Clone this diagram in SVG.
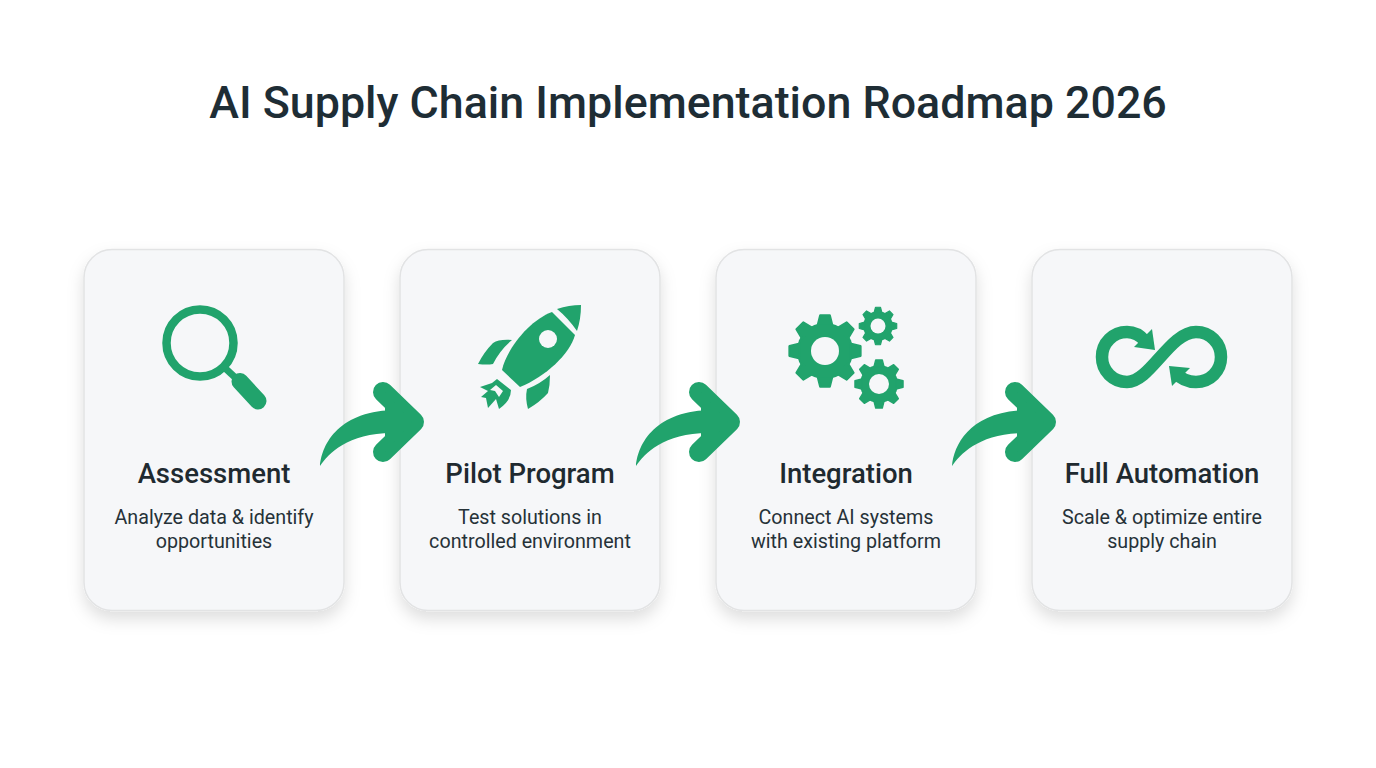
<svg xmlns="http://www.w3.org/2000/svg" width="1376" height="768" viewBox="0 0 1376 768">
<style>
text{font-family:Roboto,"Liberation Sans",sans-serif;text-anchor:middle}
.title{font-size:44.800px;font-weight:500;fill:#1e2d35}
.h{font-size:27.500px;font-weight:500;fill:#1f2a30}
.d{font-size:19.700px;fill:#263238}
.card{fill:#f6f7f9;stroke:#e2e3e4;stroke-width:1.500;filter:url(#sh)}
.g{fill:#21a36c}
.ln{fill:none;stroke:#21a36c}
.hole{fill:#f6f7f9}
</style>
<defs>
<filter id="sh" x="-20%" y="-20%" width="140%" height="140%"><feDropShadow dx="0" dy="8" stdDeviation="8" flood-color="#000" flood-opacity=".13"/></filter>
<g id="gear" class="g">
<circle r="76"/>
<g id="tooth2"><path id="t" stroke="#21a36c" stroke-width="6" stroke-linejoin="round" d="M-20,-68L-13,-96H13L20,-68ZM-20,68L-13,96H13L20,68Z"/><use href="#t" transform="rotate(90)"/></g>
<use href="#tooth2" transform="rotate(45)"/>
</g>
<g id="arrow">
<path class="g" d="M320,466C322,443 340,409 400,410L410,434L392,433C348,433 328,454 320,466Z"/>
<path class="ln" d="M383,392L414,422L383,452" stroke-width="20" stroke-linecap="round" stroke-linejoin="round"/>
<path class="g" d="M385,392L412,422L385,452Z"/>
</g>
</defs>
<rect width="1376" height="768" fill="#fff"/>
<text class="title" x="688" y="118">AI Supply Chain Implementation Roadmap 2026</text>
<g id="card-assessment">
<rect class="card" x="84" y="249.500" width="260" height="361" rx="28"/>
<circle class="ln" cx="200" cy="343" r="33.500" stroke-width="8.500"/>
<path class="ln" d="M226,369L240,382" stroke-width="7"/>
<path class="ln" d="M240,381.500L258,401" stroke-width="17" stroke-linecap="round"/>
<text class="h" x="214" y="483">Assessment</text>
<text class="d" x="214" y="524">Analyze data &amp; identify</text>
<text class="d" x="214" y="547.500">opportunities</text>
</g>
<g id="card-pilot">
<rect class="card" x="400" y="249.500" width="260" height="361" rx="28"/>
<path class="g" d="M557,309Q569,305 581,305Q581,319 577,331Q568,318 557,309Z"/>
<path class="g" d="M552,312Q562,322 575,335C570,354 545,377 520,387L502,370C507,348 530,320 552,312Z"/>
<circle class="hole" cx="548" cy="339" r="9"/>
<path class="g" d="M512,340Q499,339 493,343Q484,352 478,364Q487,365 493,364Q500,350 512,340Z"/>
<path class="g" d="M550,375Q550,385 548,393Q540,402 528,409Q525,398 527,389Q540,384 550,375Z"/>
<path class="g" d="M497,379L511,390Q511,401 499,409L496,399L488,408L486,398L481,397L488,391L480,387L492,383Z"/>
<path class="hole" d="M496,385L503,391L499,397L495,391L490,390Z"/>
<text class="h" x="530" y="483">Pilot Program</text>
<text class="d" x="530" y="524">Test solutions in</text>
<text class="d" x="530" y="547.500">controlled environment</text>
</g>
<g id="card-integration">
<rect class="card" x="716" y="249.500" width="260" height="361" rx="28"/>
<use href="#gear" transform="translate(825,351) scale(.37)"/>
<circle class="hole" cx="825" cy="351" r="14"/>
<use href="#gear" transform="translate(878,326) scale(.195)"/>
<circle class="hole" cx="878" cy="326" r="7.500"/>
<use href="#gear" transform="translate(879,384) scale(.25)"/>
<circle class="hole" cx="879" cy="384" r="10"/>
<text class="h" x="846" y="483">Integration</text>
<text class="d" x="846" y="524">Connect AI systems</text>
<text class="d" x="846" y="547.500">with existing platform</text>
</g>
<g id="card-automation">
<rect class="card" x="1032" y="249.500" width="260" height="361" rx="28"/>
<path class="ln" stroke-width="12.500" d="M1145,341C1140,335 1134,332 1127,332C1113,332 1102,343 1102,357C1102,371 1113,382 1127,382C1150,382 1170,332 1196,332C1210,332 1221,343 1221,357C1221,371 1210,382 1196,382C1188,382 1181,379 1176,373"/>
<path class="g" d="M1152,329L1155,350L1134,347Z"/>
<path class="g" d="M1169,366L1190,368L1172,386Z"/>
<text class="h" x="1162" y="483">Full Automation</text>
<text class="d" x="1162" y="524">Scale &amp; optimize entire</text>
<text class="d" x="1162" y="547.500">supply chain</text>
</g>
<g id="connectors">
<use href="#arrow"/>
<use href="#arrow" x="316"/>
<use href="#arrow" x="632"/>
</g>
</svg>
